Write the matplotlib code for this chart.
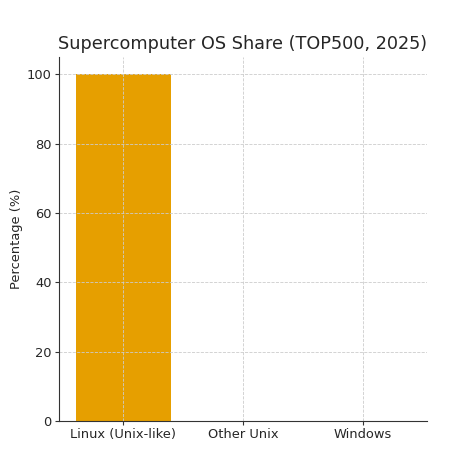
import matplotlib
matplotlib.use("Agg")
import matplotlib.pyplot as plt

categories = ["Linux (Unix-like)", "Other Unix", "Windows"]
shares = [100, 0, 0]

plt.rcParams["text.color"] = "#262626"
plt.rcParams["axes.labelcolor"] = "#262626"
plt.rcParams["xtick.color"] = "#333333"
plt.rcParams["ytick.color"] = "#333333"
plt.rcParams["axes.edgecolor"] = "#333333"

fig = plt.figure(figsize=(4.74, 4.74), dpi=100)
ax = fig.add_axes([0.124, 0.112, 0.777, 0.768])
ax.bar(categories, shares, color="#E69F00", width=0.8)
ax.set_title("Supercomputer OS Share (TOP500, 2025)", fontsize=12.7)
ax.set_ylabel("Percentage (%)", fontsize=9.4, labelpad=3)
ax.tick_params(labelsize=9.4, labelcolor="#262626", length=3, pad=2)
ax.grid(True, linestyle="--", color="#cccccc", linewidth=0.6)
ax.spines["top"].set_visible(False)
ax.spines["right"].set_visible(False)
fig.savefig("out.png", dpi=100)
